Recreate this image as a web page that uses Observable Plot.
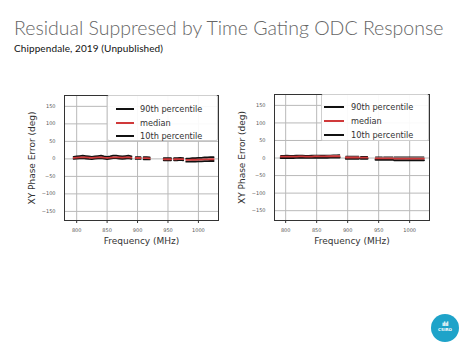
<!DOCTYPE html>
<html><head><meta charset="utf-8">
<script src="https://cdn.jsdelivr.net/npm/d3@7"></script>
<script src="https://cdn.jsdelivr.net/npm/@observablehq/plot@0.6"></script>
<style>
body{margin:0;background:#fff;width:474px;height:355px;position:relative;overflow:hidden;font-family:"DejaVu Sans",sans-serif}
#title{position:absolute;left:14px;top:18px;font-family:Lato,sans-serif;font-weight:300;font-size:19.5px;color:#666;white-space:nowrap;line-height:1}
#sub{position:absolute;left:14px;top:43px;font-family:Lato,sans-serif;font-size:10px;letter-spacing:0.1px;color:#111;white-space:nowrap;line-height:1}
.panel{position:absolute}
.legend{position:absolute;background:rgba(255,255,255,0.92);border:1px solid #cfcfcf;border-radius:2px;font-size:8.2px;color:#333;box-sizing:border-box}
.legend .row{position:absolute;left:0;height:10px;white-space:nowrap}
.legend .sw{position:absolute;height:0}
.legend .lb{position:absolute;line-height:10px}
#logo{position:absolute;left:431px;top:314px;width:28px;height:28px;border-radius:50%;background:#1ea3c9;color:#fff;font-family:"DejaVu Sans",sans-serif;font-weight:bold;font-size:4px;text-align:center;line-height:1}
</style></head>
<body>
<div id="title">Residual Suppresed by Time Gating ODC Response</div>
<div id="sub">Chippendale, 2019 (Unpublished)</div>
<div id="left" class="panel" style="left:0px;top:85px"></div>
<div id="right" class="panel" style="left:235px;top:84px"></div>
<div id="logo"><div style="margin-top:7px;font-size:6px;letter-spacing:-0.5px">ılıl</div><div style="margin-top:1px">CSIRO</div></div>
<script>
// ---- shared labels / ticks ----
const xTicks = [800, 850, 900, 950, 1000];
const yTicks = [-150, -100, -50, 0, 50, 100, 150];
const xLabel = "Frequency (MHz)";
const yLabel = "XY Phase Error (deg)";
const seriesNames = ["90th percentile", "median", "10th percentile"];

// ---- left panel data (null = flagged gap) ----
const freqL = [795,800,805,810,815,820,825,830,835,840,845,850,855,860,865,870,875,880,885,890,
  893, 897,901,905, 907.5, 910,915,920, 931, 943,949,955, 957.5, 960,965,970,975, 977.5,
  980,985,990,995,1000,1005,1010,1015,1020,1025];
const p90L = [6,7,8,9,8,7,6,7,8,9,7,6,7,9,9,8,7,8,9,7,
  null, 5,5,5, null, 5,5,4, null, 2,2,2, null, 2,2,3,2, null,
  1,1,2,2,3,3,4,4,5,5];
const medL = [3,3.5,4,4.5,4,3.5,3,3.5,4,4.5,3.5,3,3.5,4.5,4.5,4,3.5,4,4.5,3.5,
  null, 2.5,2.5,2.5, null, 2,2,1.5, null, -1,-1,-1, null, -1,-1,-0.5,-1, null,
  -3,-3,-2.5,-2.5,-2,-2,-1.5,-1.5,-1,-1];
const p10L = [0,1,1.5,2,1,0,-0.5,0.5,1.5,2,0.5,-0.5,0.5,2,2,1,0,1,2,0,
  null, 0,0,0, null, -1,-1,-1.5, null, -4,-4,-4, null, -4,-4,-3,-4, null,
  -8,-8,-7.5,-7.5,-7,-7,-6.5,-6.5,-6,-6];

// ---- right panel data ----
const freqR = [792,797,802,807,812,817,822,827,832,837,842,847,852,857,862,867,872,877,882,887,
  892, 897,902,907,912,918, 919.5, 921,926,932, 938, 945,950,956, 957, 958,963,968,973, 974,
  975,980,985,990,995,1000,1005,1010,1015,1020,1023];
const p90R = [7,7,7.5,7,7,7.5,8,7.5,7,7,7.5,8,8,7.5,7.5,8,8,8.5,8.5,9,
  null, 5,5,5,5,5, null, 4,4,4, null, 3,3,3, null, 3,3,3,3, null,
  3,3,3,3,3,3,3,3,3,3,3];
const medR = [4,4,4,4,4,4,4.5,4.5,4,4,4,4.5,4.5,4.5,4.5,4.5,5,5,5,5,
  null, 1.5,1.5,1.5,1.5,1.5, null, 1,1,1, null, -1,-1,-1, null, -1,-1,-1,-1, null,
  -1.5,-1.5,-1.5,-1.5,-1.5,-1.5,-1.5,-1.5,-1.5,-1.5,-1.5];
const p10R = [0,0,0.5,0,0,0.5,1,1,0.5,0.5,1,1,1,1,1,1,1.5,1.5,1.5,1.5,
  null, -2,-2,-2,-2,-2, null, -2,-2,-2, null, -5,-5,-5, null, -5,-5,-5,-5, null,
  -6,-6,-6,-6,-6,-6,-6,-6,-6,-6,-6];

const RED = "#d0393a";

function rows(f, a, m, b) {
  return f.map((x, i) => ({f: x, p90: a[i], med: m[i], p10: b[i]}));
}

function panel(el, data, o) {
  const chart = Plot.plot({
    width: o.width, height: o.height,
    marginLeft: o.ml, marginRight: o.mr, marginTop: o.mt, marginBottom: o.mb,
    x: {domain: o.xd},
    y: {domain: o.yd},
    style: {fontFamily: "DejaVu Sans, sans-serif", fontSize: "5px", color: "#444", background: "transparent", overflow: "visible"},
    marks: [
      Plot.gridX(xTicks, {stroke: "#b9b9b9", strokeOpacity: 1, strokeWidth: 1}),
      Plot.gridY(yTicks, {stroke: "#b9b9b9", strokeOpacity: 1, strokeWidth: 1}),
      Plot.axisX(xTicks, {tickSize: 3, tickPadding: 5, fontSize: 5, label: null, stroke: "#333", color: "#555", tickFormat: d => String(d)}),
      Plot.axisY(yTicks, {tickSize: 0, tickPadding: 9, fontSize: 5, label: null, color: "#555"}),
      Plot.line(data, {x: "f", y: "p90", stroke: "#111", strokeWidth: o.w90}),
      Plot.line(data, {x: "f", y: "p10", stroke: "#111", strokeWidth: o.w10}),
      Plot.line(data, {x: "f", y: "med", stroke: RED, strokeWidth: 1.8}),
      Plot.frame({stroke: "#333", strokeWidth: 1}),
      Plot.text([xLabel], {text: d => d, frameAnchor: "bottom", dy: 23, fontSize: 9, fill: "#333"}),
      Plot.text([yLabel], {text: d => d, frameAnchor: "left", textAnchor: "middle", dx: -32, rotate: -90, fontSize: 9, fill: "#333"})
    ]
  });
  el.appendChild(chart);
  // legend (HTML overlay)
  const lg = document.createElement("div");
  lg.className = "legend";
  Object.assign(lg.style, {left: o.lg.x + "px", top: o.lg.y + "px", width: o.lg.w + "px", height: o.lg.h + "px"});
  const colors = ["#111", RED, "#111"];
  const widths = [o.w90 + 1, 2, o.w10 + 0.5];
  seriesNames.forEach((name, i) => {
    const r = document.createElement("div");
    r.className = "row";
    r.style.top = (o.lg.r0 + i * o.lg.dr - 5) + "px";
    const sw = document.createElement("div");
    sw.className = "sw";
    Object.assign(sw.style, {left: o.lg.sx + "px", width: o.lg.sw + "px", top: (5 - widths[i] / 2) + "px", borderTop: widths[i] + "px solid " + colors[i]});
    const lb = document.createElement("div");
    lb.className = "lb";
    lb.style.left = o.lg.tx + "px";
    lb.textContent = name;
    r.appendChild(sw); r.appendChild(lb);
    lg.appendChild(r);
  });
  el.appendChild(lg);
}

panel(document.getElementById("left"), rows(freqL, p90L, medL, p10L), {
  width: 235, height: 175, ml: 64, mr: 17, mt: 10, mb: 40,
  xd: [780, 1033], yd: [-176, 181], w90: 1.8, w10: 1.8,
  lg: {x: 107, y: 10, w: 111, h: 46, r0: 13, dr: 13.5, sx: 8, sw: 18, tx: 32}
});
panel(document.getElementById("right"), rows(freqR, p90R, medR, p10R), {
  width: 239, height: 176, ml: 39, mr: 45, mt: 10, mb: 40,
  xd: [782, 1032], yd: [-178, 181], w90: 1.1, w10: 2,
  lg: {x: 86, y: 10, w: 108, h: 47, r0: 12, dr: 14, sx: 2, sw: 20, tx: 29}
});
</script>
</body></html>
